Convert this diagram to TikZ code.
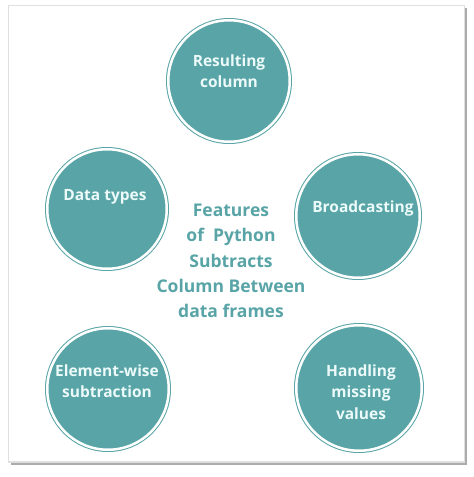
\documentclass[tikz,border=0pt]{standalone}
\usepackage{fontspec}
\setmainfont{Open Sans}
\usepackage{xcolor}
\usetikzlibrary{positioning}

\definecolor{featteal}{RGB}{88,164,166}
\definecolor{feattext}{RGB}{236,250,250}

\begin{document}
\begin{tikzpicture}[x=1pt, y=-1pt,
  every node/.style={font=\bfseries},
  featdisc/.style={circle, fill=featteal, draw=featteal, double=white,
    double distance=2.5pt, line width=1pt, inner sep=0pt},
  feattxt/.style={text=feattext, align=center, font=\fontsize{15.5}{21.5}\bfseries\selectfont},
  maintxt/.style={text=featteal, align=center, font=\fontsize{17.5}{25.3}\bfseries\selectfont}]
  \useasboundingbox (0,0) rectangle (474,477);
  % ---------- PANEL ----------
  \fill[gray!65] (11,8) rectangle (467,465);
  \fill[gray!25] (8,5) rectangle (465,463);
  \fill[white] (9,6) rectangle (464,461);
  % ---------- DISCS ----------
  \node[featdisc, minimum size=121.5pt] (res) at (229,81) {};
  \node[featdisc, minimum size=119.5pt] (typ) at (107,209) {};
  \node[featdisc, minimum size=123.5pt] (brd) at (358,216) {};
  \node[featdisc, minimum size=121.5pt] (ele) at (108,389) {};
  \node[featdisc, minimum size=125.5pt] (hnd) at (359,388) {};
  % ---------- LABELS ----------
  \node[feattxt] (res-t) at (229,71) {Resulting\\column};
  \node[feattxt] (typ-t) at (105,197) {Data types};
  \node[feattxt] (brd-t) at (363,208) {Broadcasting};
  \node[feattxt] (ele-t) at (107,381) {Element-wise\\subtraction};
  \node[feattxt] (hnd-t) at (361,392) {Handling\\missing\\values};
  \node[maintxt] (main) at (231,261) {Features\\of~ Python\\Subtracts\\Column Between\\data frames};
\end{tikzpicture}
\end{document}
